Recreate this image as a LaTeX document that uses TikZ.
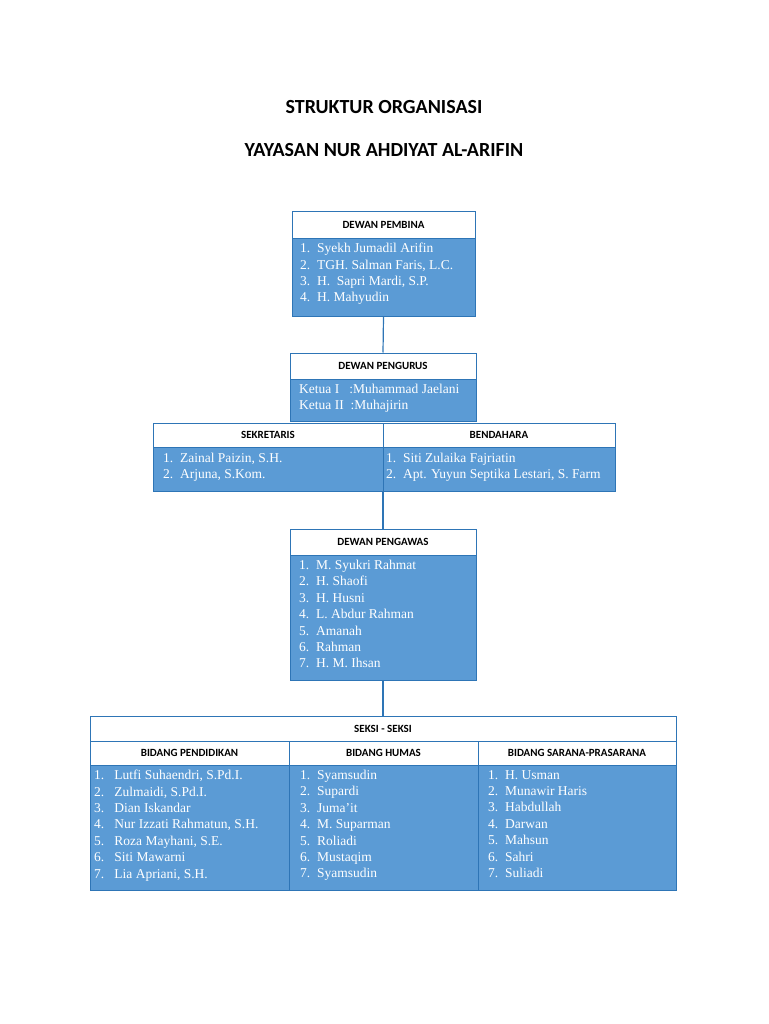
\documentclass[tikz,border=0pt]{standalone}
\usepackage{fontspec}
\setmainfont{Liberation Serif}
\newfontfamily\hdfont{Carlito}
\definecolor{bl}{HTML}{5B9BD5}
\definecolor{bd}{HTML}{2E75B6}
\begin{document}
\begin{tikzpicture}[x=1pt,y=-1pt,
 hd/.style={draw=bd,line width=1pt,fill=white,font=\hdfont\bfseries\fontsize{11}{13}\selectfont,inner sep=0pt},
 bx/.style={draw=bd,line width=1pt,fill=bl,inner sep=0pt},
 tx/.style={anchor=north west,align=left,text=white,font=\fontsize{13.5}{16.4}\selectfont,inner sep=0pt},
 ln/.style={draw=bd,line width=1.2pt}]
\useasboundingbox (0,0) rectangle (768,1024);
\node[font=\hdfont\bfseries\fontsize{20}{24}\selectfont] (t1) at (384,107) {STRUKTUR ORGANISASI};
\node[font=\hdfont\bfseries\fontsize{20}{24}\selectfont] (t2) at (384,150) {YAYASAN NUR AHDIYAT AL-ARIFIN};
% pembina
\node[bx,minimum width=183,minimum height=78] (pb) at (383.5,277) {};
\node[hd,minimum width=183,minimum height=26] (pbh) at (383.5,225) {DEWAN PEMBINA};
\node[tx] (pbt) at (300,243) {1.\ \ Syekh Jumadil Arifin\\2.\ \ TGH. Salman Faris, L.C.\\3.\ \ H.\ \ Sapri Mardi, S.P.\\4.\ \ H. Mahyudin};
% pengurus
\node[bx,minimum width=186,minimum height=42] (pg) at (383,400) {};
\node[hd,minimum width=186,minimum height=26] (pgh) at (383,366) {DEWAN PENGURUS};
\node[tx] (pgt) at (299,384) {Ketua I\ \ \ :Muhammad Jaelani\\Ketua II\ \ :Muhajirin};
\draw[ln] (pb.south) -- (pgh.north);
% sekretaris / bendahara
\node[bx,minimum width=230,minimum height=44] (sk) at (268,469) {};
\node[hd,minimum width=230,minimum height=24] (skh) at (268,435) {SEKRETARIS};
\node[bx,minimum width=232,minimum height=44] (bn) at (499,469) {};
\node[hd,minimum width=232,minimum height=24] (bnh) at (499,435) {BENDAHARA};
\node[tx] (skt) at (163,453) {1.\ \ Zainal Paizin, S.H.\\2.\ \ Arjuna, S.Kom.};
\node[tx] (bnt) at (386,453) {1.\ \ Siti Zulaika Fajriatin\\2.\ \ Apt. Yuyun Septika Lestari, S. Farm};
% pengawas
\node[bx,minimum width=186,minimum height=125] (pw) at (383,617.5) {};
\node[hd,minimum width=186,minimum height=26] (pwh) at (383,542) {DEWAN PENGAWAS};
\node[tx] (pwt) at (299,560) {1.\ \ M. Syukri Rahmat\\2.\ \ H. Shaofi\\3.\ \ H. Husni\\4.\ \ L. Abdur Rahman\\5.\ \ Amanah\\6.\ \ Rahman\\7.\ \ H. M. Ihsan};
\draw[ln] (383,491) -- (pwh.north);
% seksi
\node[hd,minimum width=586,minimum height=25] (ss) at (383,728.5) {SEKSI - SEKSI};
\draw[ln] (pw.south) -- (ss.north);
\node[hd,minimum width=199,minimum height=24] (b1h) at (189.5,753) {BIDANG PENDIDIKAN};
\node[hd,minimum width=189,minimum height=24] (b2h) at (383.5,753) {BIDANG HUMAS};
\node[hd,minimum width=198,minimum height=24] (b3h) at (577,753) {BIDANG SARANA-PRASARANA};
\node[bx,minimum width=199,minimum height=125] (b1) at (189.5,827.5) {};
\node[bx,minimum width=189,minimum height=125] (b2) at (383.5,827.5) {};
\node[bx,minimum width=198,minimum height=125] (b3) at (577,827.5) {};
\node[tx] (b1t) at (94,770) {1.\ \ \ Lutfi Suhaendri, S.Pd.I.\\2.\ \ \ Zulmaidi, S.Pd.I.\\3.\ \ \ Dian Iskandar\\4.\ \ \ Nur Izzati Rahmatun, S.H.\\5.\ \ \ Roza Mayhani, S.E.\\6.\ \ \ Siti Mawarni\\7.\ \ \ Lia Apriani, S.H.};
\node[tx] (b2t) at (300,770) {1.\ \ Syamsudin\\2.\ \ Supardi\\3.\ \ Juma'it\\4.\ \ M. Suparman\\5.\ \ Roliadi\\6.\ \ Mustaqim\\7.\ \ Syamsudin};
\node[tx] (b3t) at (488,770) {1.\ \ H. Usman\\2.\ \ Munawir Haris\\3.\ \ Habdullah\\4.\ \ Darwan\\5.\ \ Mahsun\\6.\ \ Sahri\\7.\ \ Suliadi};
\end{tikzpicture}
\end{document}
